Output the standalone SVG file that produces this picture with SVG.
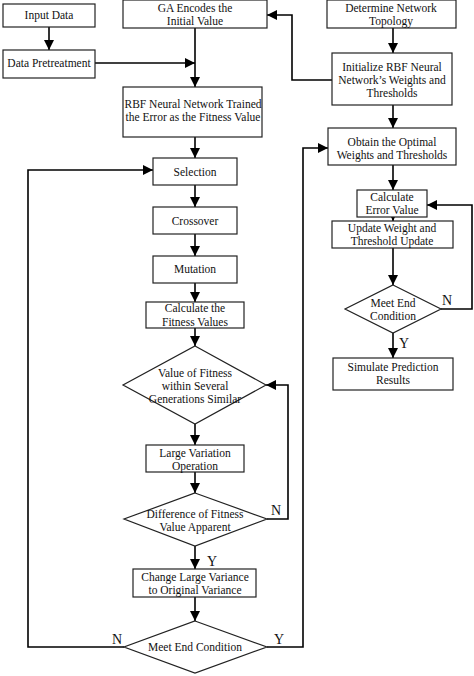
<svg xmlns="http://www.w3.org/2000/svg" width="474" height="676" viewBox="0 0 474 676">
<style>
.b{fill:#fff;stroke:#222;stroke-width:1.2}
.t{font-family:"Liberation Serif","Times New Roman",serif;font-size:11.5px;fill:#111;text-anchor:middle}
.l{font-family:"Liberation Serif","Times New Roman",serif;font-size:14px;fill:#111;text-anchor:middle}
.c{fill:none;stroke:#000;stroke-width:1.6}
</style>
<defs>
<marker id="a" markerUnits="userSpaceOnUse" markerWidth="10" markerHeight="10" viewBox="0 0 10 10" refX="10" refY="5" orient="auto">
<path d="M0,0 L10,5 L0,10 Z" fill="#000"/>
</marker>
</defs>
<rect width="474" height="676" fill="#fff"/>
<g id="connectors">
<path class="c" d="M49,27 V50" marker-end="url(#a)"/>
<path class="c" d="M95,63 H195" marker-end="url(#a)"/>
<path class="c" d="M195,28 V87" marker-end="url(#a)"/>
<path class="c" d="M332,80 H292 V15 H267" marker-end="url(#a)"/>
<path class="c" d="M393,28 V53" marker-end="url(#a)"/>
<path class="c" d="M393,105 V128" marker-end="url(#a)"/>
<path class="c" d="M393,165 V190" marker-end="url(#a)"/>
<path class="c" d="M393,217 V221" marker-end="url(#a)"/>
<path class="c" d="M393,248 V285" marker-end="url(#a)"/>
<path class="c" d="M441,309 H472 V205 H427" marker-end="url(#a)"/>
<path class="c" d="M393,333 V358" marker-end="url(#a)"/>
<path class="c" d="M195,137 V158" marker-end="url(#a)"/>
<path class="c" d="M195,185 V207" marker-end="url(#a)"/>
<path class="c" d="M195,234 V256" marker-end="url(#a)"/>
<path class="c" d="M195,283 V302" marker-end="url(#a)"/>
<path class="c" d="M195,328 V346" marker-end="url(#a)"/>
<path class="c" d="M195,424 V445" marker-end="url(#a)"/>
<path class="c" d="M195,472 V493" marker-end="url(#a)"/>
<path class="c" d="M267,519 H288 V385 H266" marker-end="url(#a)"/>
<path class="c" d="M195,546 V569" marker-end="url(#a)"/>
<path class="c" d="M195,597 V621" marker-end="url(#a)"/>
<path class="c" d="M124,647 H28 V170 H153" marker-end="url(#a)"/>
<path class="c" d="M267,647 H303 V148 H328" marker-end="url(#a)"/>
<text class="l" x="447" y="305">N</text>
<text class="l" x="404" y="348">Y</text>
<text class="l" x="276" y="515">N</text>
<text class="l" x="212" y="566">Y</text>
<text class="l" x="117" y="644">N</text>
<text class="l" x="279" y="644">Y</text>
</g>
<g id="input-data"><rect class="b" x="3" y="4" width="92" height="23"/><text class="t" x="49" y="19">Input Data</text></g>
<g id="data-pretreatment"><rect class="b" x="3" y="50" width="92" height="28"/><text class="t" x="49" y="67">Data Pretreatment</text></g>
<g id="ga-encodes"><rect class="b" x="123" y="0" width="144" height="28"/><text class="t" x="195" y="12">GA Encodes the</text><text class="t" x="195" y="25">Initial Value</text></g>
<g id="rbf-trained"><rect class="b" x="123" y="87" width="139" height="50"/><text class="t" x="193" y="108">RBF Neural Network Trained</text><text class="t" x="193" y="121">the Error as the Fitness Value</text></g>
<g id="determine-topology"><rect class="b" x="327" y="0" width="129" height="28"/><text class="t" x="391" y="12">Determine Network</text><text class="t" x="391" y="25">Topology</text></g>
<g id="initialize-rbf"><rect class="b" x="332" y="53" width="120" height="52"/><text class="t" x="392" y="71">Initialize RBF Neural</text><text class="t" x="392" y="84">Network’s Weights and</text><text class="t" x="392" y="97">Thresholds</text></g>
<g id="obtain-optimal"><rect class="b" x="328" y="128" width="128" height="37"/><text class="t" x="392" y="146">Obtain the Optimal</text><text class="t" x="392" y="159">Weights and Thresholds</text></g>
<g id="calculate-error"><rect class="b" x="357" y="190" width="70" height="27"/><text class="t" x="392" y="201">Calculate</text><text class="t" x="392" y="214">Error Value</text></g>
<g id="update-weight"><rect class="b" x="332" y="221" width="121" height="27"/><text class="t" x="392" y="232">Update Weight and</text><text class="t" x="392" y="245">Threshold Update</text></g>
<g id="meet-end-right"><polygon class="b" points="393,285 441,309 393,333 345,309"/><text class="t" x="393" y="307">Meet End</text><text class="t" x="393" y="320">Condition</text></g>
<g id="simulate-prediction"><rect class="b" x="333" y="358" width="120" height="32"/><text class="t" x="393" y="371">Simulate Prediction</text><text class="t" x="393" y="384">Results</text></g>
<g id="selection"><rect class="b" x="153" y="158" width="84" height="27"/><text class="t" x="195" y="176">Selection</text></g>
<g id="crossover"><rect class="b" x="153" y="207" width="84" height="27"/><text class="t" x="195" y="225">Crossover</text></g>
<g id="mutation"><rect class="b" x="153" y="256" width="84" height="27"/><text class="t" x="195" y="273">Mutation</text></g>
<g id="calculate-fitness"><rect class="b" x="146" y="302" width="98" height="26"/><text class="t" x="195" y="312">Calculate the</text><text class="t" x="195" y="326">Fitness Values</text></g>
<g id="fitness-similar"><polygon class="b" points="195,346 266,385 195,424 123,385"/><text class="t" x="195" y="377">Value of Fitness</text><text class="t" x="195" y="390">within Several</text><text class="t" x="195" y="403">Generations Similar</text></g>
<g id="large-variation"><rect class="b" x="146" y="445" width="98" height="27"/><text class="t" x="195" y="457">Large Variation</text><text class="t" x="195" y="470">Operation</text></g>
<g id="difference-apparent"><polygon class="b" points="195,493 267,519 195,546 124,519"/><text class="t" x="195" y="518">Difference of Fitness</text><text class="t" x="195" y="531">Value Apparent</text></g>
<g id="change-variance"><rect class="b" x="133" y="569" width="123" height="28"/><text class="t" x="195" y="581">Change Large Variance</text><text class="t" x="195" y="594">to Original Variance</text></g>
<g id="meet-end-left"><polygon class="b" points="195,621 267,647 195,673 124,647"/><text class="t" x="195" y="651">Meet End Condition</text></g>
</svg>
